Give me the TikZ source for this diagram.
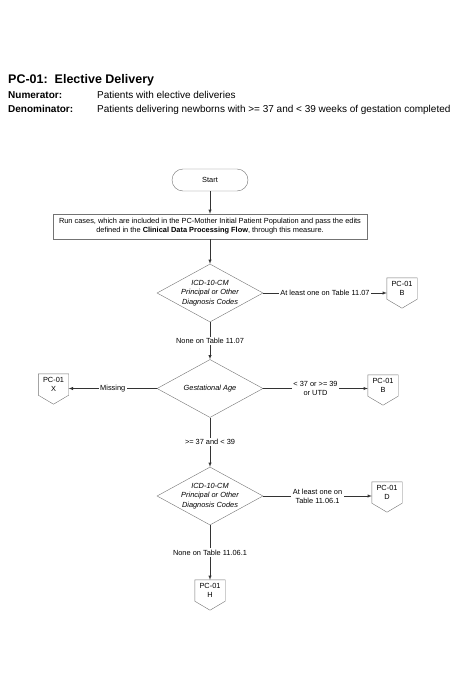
\documentclass[tikz,border=0pt]{standalone}
\usepackage{fontspec}
\setmainfont{Liberation Sans}
\usetikzlibrary{shapes.geometric,calc}
\begin{document}
\begin{tikzpicture}[x=1pt, y=-1pt,
  every node/.style = {font=\fontsize{7.4}{9}\selectfont},
  terminal/.style = {draw=black!55, rounded corners=11pt, minimum width=76pt, minimum height=22pt},
  process/.style = {draw=black!55, minimum width=314pt, minimum height=25pt, align=center, inner sep=1pt},
  decision/.style = {draw=black!55, diamond, aspect=1.8, inner sep=0pt, minimum width=106pt,
    minimum height=58pt, align=center, font=\fontsize{7.4}{9.5}\selectfont\itshape},
  offpage/.style = {minimum width=30pt, minimum height=21pt, inner sep=0pt, align=center},
  flow/.style = {draw=black!80, line width=0.5pt, -latex},
  cond/.style = {fill=white, inner sep=1.5pt, align=center}
  ]
  \useasboundingbox (0,0) rectangle (474,677);
  % heading
  \node[anchor=base west, inner sep=0pt, font=\bfseries\fontsize{12.5}{15}\selectfont] (title) at (8,83) {PC-01:\ \ Elective Delivery};
  \node[anchor=base west, inner sep=0pt, font=\bfseries\fontsize{10}{12}\selectfont] (numlbl) at (8,99) {Numerator:};
  \node[anchor=base west, inner sep=0pt, font=\fontsize{10}{12}\selectfont] (numtxt) at (97,99) {Patients with elective deliveries};
  \node[anchor=base west, inner sep=0pt, font=\bfseries\fontsize{10}{12}\selectfont] (denlbl) at (8,112) {Denominator:};
  \node[anchor=base west, inner sep=0pt, font=\fontsize{10}{12}\selectfont] (dentxt) at (97,112) {Patients delivering newborns with >= 37 and < 39 weeks of gestation completed};
  % flow
  \node[terminal] (start) at (210,180) {Start};
  \node[process] (run) at (210,226.5) {Run cases, which are included in the PC-Mother Initial Patient Population and pass the edits\\
    defined in the \textbf{Clinical Data Processing Flow}, through this measure.};
  \node[decision] (icd1) at (210,293) {ICD-10-CM\\Principal or Other\\Diagnosis Codes};
  \node[decision] (gest) at (210,388.5) {Gestational Age};
  \node[decision] (icd2) at (210,496) {ICD-10-CM\\Principal or Other\\Diagnosis Codes};
  \node[offpage] (pcB1) at (402,288.5) {PC-01\\B};
  \node[offpage] (pcX) at (53.5,384.5) {PC-01\\X};
  \node[offpage] (pcB2) at (383,385.5) {PC-01\\B};
  \node[offpage] (pcD) at (387,492.5) {PC-01\\D};
  \node[offpage] (pcH) at (210,590.5) {PC-01\\H};
  \foreach \p in {pcB1,pcX,pcB2,pcD,pcH}
    \draw[black!55] (\p.north west) -- (\p.north east) -- (\p.south east)
      -- ($(\p.south)+(0,9)$) -- (\p.south west) -- cycle;

  \draw[flow] (start) -- (run);
  \draw[flow] (run) -- (icd1);
  \draw[flow] (icd1) -- node[cond] {At least one on Table 11.07} (icd1 -| pcB1.west);
  \draw[flow] (icd1) -- node[cond] {None  on Table 11.07} (gest);
  \draw[flow] (gest) -- node[cond] {Missing} (gest -| pcX.east);
  \draw[flow] (gest) -- node[cond] {< 37 or >= 39\\or UTD} (gest -| pcB2.west);
  \draw[flow] (gest) -- node[cond] {>= 37 and < 39} (icd2);
  \draw[flow] (icd2) -- node[cond] {At least one on\\Table 11.06.1} (icd2 -| pcD.west);
  \draw[flow] (icd2) -- node[cond] {None on Table 11.06.1} (pcH);
\end{tikzpicture}
\end{document}
